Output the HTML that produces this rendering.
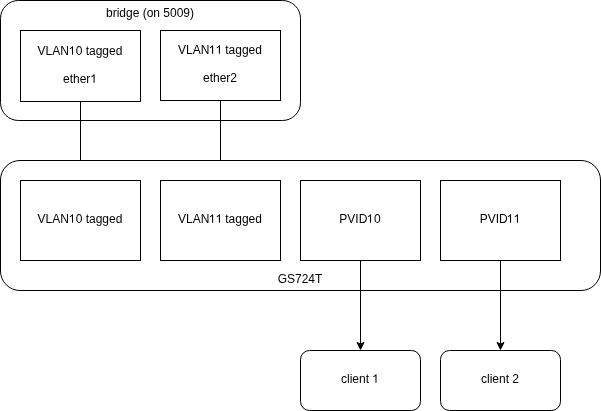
<!DOCTYPE html>
<html>
<head>
<meta charset="utf-8">
<title>diagram</title>
<style>
html,body{margin:0;padding:0;background:#fff;}
body{width:601px;height:411px;overflow:hidden;position:relative;font-family:"Liberation Sans",sans-serif;}
svg{position:absolute;left:0;top:0;display:block;will-change:transform;filter:grayscale(1);}
svg text{font-family:"Liberation Sans",sans-serif;font-size:12px;fill:#000;text-anchor:middle;}
svg text .h{fill:none;fill-opacity:0;}
</style>
</head>
<body>
<svg width="601" height="411" viewBox="0 0 601 411">
<rect x="0" y="0" width="601" height="411" fill="#ffffff"/>
<g fill="#ffffff" stroke="#000000" stroke-width="1">
<rect x="0.5" y="0.5" width="300" height="120" rx="18" ry="18"/>
<rect x="20.5" y="30.5" width="120" height="71"/>
<rect x="160.5" y="30.5" width="120" height="70"/>
<rect x="0.5" y="160.5" width="600" height="130" rx="19.5" ry="19.5"/>
<rect x="20.5" y="180.5" width="120" height="80"/>
<rect x="160.5" y="180.5" width="120" height="80"/>
<rect x="300.5" y="180.5" width="120" height="80"/>
<rect x="440.5" y="180.5" width="120" height="80"/>
<rect x="300.5" y="350.5" width="120" height="60" rx="9" ry="9"/>
<rect x="440.5" y="350.5" width="120" height="60" rx="9" ry="9"/>
</g>
<g fill="none" stroke="#000000" stroke-width="1">
<path d="M80.5 101.5 L80.5 160.5"/>
<path d="M220.5 100.5 L220.5 160.5"/>
<path d="M360.5 260.5 L360.5 344.13"/>
<path d="M500.5 260.5 L500.5 344.13"/>
</g>
<g fill="#000000" stroke="#000000" stroke-width="1">
<path d="M360.5 349.38 L357 342.38 L360.5 344.13 L364 342.38 Z"/>
<path d="M500.5 349.38 L497 342.38 L500.5 344.13 L504 342.38 Z"/>
</g>
<text x="150" y="17">bridge (on 5009)</text>
<text x="80" y="55">VLAN<tspan class="h">1</tspan>0 tagged</text>
<text x="80" y="83">ether<tspan class="h">1</tspan></text>
<text x="220" y="54">VLAN<tspan class="h">11</tspan> tagged</text>
<text x="220" y="82">ether2</text>
<text x="80" y="223">VLAN<tspan class="h">1</tspan>0 tagged</text>
<text x="220" y="223">VLAN<tspan class="h">11</tspan> tagged</text>
<text x="360" y="223">PVID<tspan class="h">1</tspan>0</text>
<text x="500" y="223">PVID<tspan class="h">11</tspan></text>
<text x="300" y="283">GS724T</text>
<text x="360" y="383">client <tspan class="h">1</tspan></text>
<text x="500" y="383">client 2</text>
<defs><path id="one" d="M763 0 H583 V1147 Q518 1085 412.5 1023 T223 930 V1104 Q374 1175 487 1276 T647 1472 H763 Z"/></defs>
<g fill="#000000" stroke="none">
<use href="#one" transform="translate(68.56 54.80) scale(0.005859 -0.005859)"/>
<use href="#one" transform="translate(90.14 82.80) scale(0.005859 -0.005859)"/>
<use href="#one" transform="translate(208.66 53.80) scale(0.005859 -0.005859)"/>
<use href="#one" transform="translate(215.46 53.80) scale(0.005859 -0.005859)"/>
<use href="#one" transform="translate(68.56 222.80) scale(0.005859 -0.005859)"/>
<use href="#one" transform="translate(208.66 222.80) scale(0.005859 -0.005859)"/>
<use href="#one" transform="translate(215.46 222.80) scale(0.005859 -0.005859)"/>
<use href="#one" transform="translate(366.60 222.80) scale(0.005859 -0.005859)"/>
<use href="#one" transform="translate(506.60 222.80) scale(0.005859 -0.005859)"/>
<use href="#one" transform="translate(513.49 222.80) scale(0.005859 -0.005859)"/>
<use href="#one" transform="translate(372.04 382.80) scale(0.005859 -0.005859)"/>
</g>
</svg>
</body>
</html>
